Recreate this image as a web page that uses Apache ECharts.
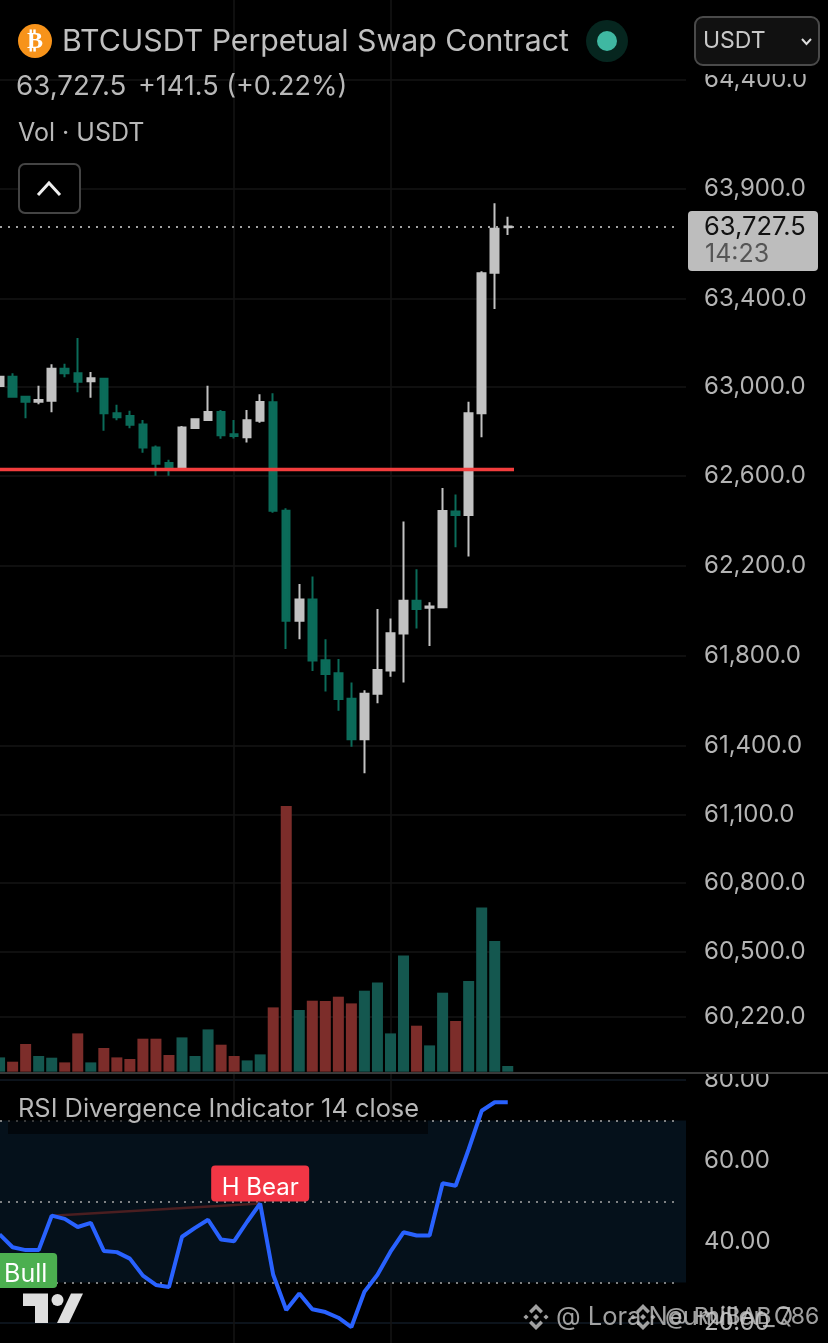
<!DOCTYPE html>
<html><head><meta charset="utf-8">
<style>html,body{margin:0;padding:0;background:#000}#c{width:828px;height:1343px}</style>
<script src="https://cdn.jsdelivr.net/npm/echarts@6/dist/echarts.min.js"></script></head>
<body><div id="c"></div>
<script>
// candle data: [open, close, low, high]
const candles = [
[63004,63046,63004,63046],[63046,62956,62953,63062],[62956,62933,62859,62959],[62933,62941,62922,63005],
[62937,63082,62886,63102],[63082,63061,63043,63104],[63061,63023,62976,63221],[63025,63039,62951,63067],
[63037,62881,62802,63037],[62881,62863,62850,62919],[62869,62829,62814,62892],[62830,62727,62704,62851],
[62727,62654,62600,62736],[62657,62636,62600,62672],[62634,62817,62634,62824],[62815,62854,62815,62854],
[62851,62887,62848,63005],[62887,62782,62766,62896],[62787,62779,62767,62851],[62773,62850,62749,62896],
[62847,62932,62838,62967],[62931,62444,62435,62971],[62444,61954,61828,62455],[61954,62048,61872,62117],
[62048,61777,61731,62150],[61779,61718,61640,61872],[61721,61607,61556,61784],[61608,61430,61397,61680],
[61430,61631,61281,61646],[61630,61735,61589,62006],[61733,61898,61706,61963],[61897,62042,61680,62395],
[62042,62006,61919,62183],[62011,62017,61842,62036],[62014,62442,62014,62545],[62440,62424,62281,62516],
[62424,62881,62239,62933],[62881,63515,62773,63524],[63517,63718,63352,63834],[63724,63727.5,63689,63772]
];
const firstSlot = 6;
const volumes = [14.3,10,27.7,15.7,14,9.3,38.3,9.3,23.7,14.3,12.7,33,33,16.7,34.3,15.7,42.3,27,15.7,11.3,17.3,64.3,265.7,61.7,71,70.7,75,68.3,81,89.3,38.3,116.3,46,26.3,79,50.7,90.7,164.3,130.7,5.7];
const rsi = [41.9,38.7,38,38,46.5,45.7,43.7,44.7,37.8,37.5,35.9,31.7,29.4,28.9,41.3,43.5,45.5,40.6,40.2,45,49.5,31.9,23.2,27.3,23.4,22.7,21.3,19,27.7,31.9,37.6,42.4,41.6,41.6,54.5,53.9,62.9,72.4,74.5,74.5];
const priceTicks = [64400,63900,63400,63000,62600,62200,61800,61400,61100,60800,60500,60220];
const rsiTicks = [20,40,60,80];
const rsiLevels = [70,50,30];
const timeTicks = [12,24,36,48];
const lastPrice = 63727.5;
const supportLevel = 62628;
const supportEndSlot = 45.48;
const bearDivergence = [[10,46.5],[26,49.5]];

const UP='#c2c2c2', DOWN='#0b6b59', VUP='#14574f', VDOWN='#7c2d2a';
const FONT='Inter, "Open Sans", sans-serif', LABEL='#b4b4b4';
const X0=6.032, X1=58.68, XDOT=58.22;
const fmt = v => v.toLocaleString('en-US',{minimumFractionDigits:1,maximumFractionDigits:1});
const xRange = {type:'value',min:X0,max:X1,axisLine:{show:false},axisTick:{show:false},axisLabel:{show:false},splitLine:{show:false}};
const gridX = {left:0,right:142};
const slot = i => i+firstSlot;

const T=(x,y,text,size,fill,extra)=>({type:'text',z:120,style:Object.assign({x,y,text,font:`${size}px ${FONT}`,fill,textVerticalAlign:'middle'},extra||{})});
const R=(x,y,w,h,r,fill,stroke,z)=>({type:'rect',z:z||110,shape:{x,y,width:w,height:h,r},style:{fill,stroke:stroke||null,lineWidth:2}});
const C=(cx,cy,r,fill,z)=>({type:'circle',z:z||112,shape:{cx,cy,r},style:{fill}});
const P=(points,fill)=>({type:'polygon',z:125,shape:{points},style:{fill}});
const L=(points,stroke,w)=>({type:'polyline',z:125,shape:{points},style:{stroke,lineWidth:w,fill:null}});
const WM='rgba(195,195,195,.82)';
const wm=(cx,cy)=>{
 const d=(a,b,r)=>P([[cx+a,cy+b-r],[cx+a+r,cy+b],[cx+a,cy+b+r],[cx+a-r,cy+b]],WM);
 const c=s=>P([[cx,cy+s*13],[cx+7,cy+s*6],[cx+4.5,cy+s*3.5],[cx,cy+s*8],[cx-4.5,cy+s*3.5],[cx-7,cy+s*6]],WM);
 return [c(-1),c(1),d(0,0,3),d(-10,0,2.6),d(10,0,2.6)];
};

const graphics=[
 R(690,0,138,74,0,'#000'),
 R(690,1058,138,16,0,'#000'),
 R(0,1072,828,2,0,'#3a3a3a'),
 C(35,41,17,'#f7931a'),
 T(35,42,'₿',24,'#fff',{textAlign:'center',font:`bold 24px "DejaVu Sans"`}),
 T(62,42,'BTCUSDT Perpetual Swap Contract',30.25,'#c0c0c0'),
 C(607,41,21,'#06261f'),C(607,41,10,'#3fb8a2',113),
 R(695,17,124,48,8,'#111','#4a4a4a'),
 T(703,41,'USDT',23,'#c8c8c8'),
 L([[802,39],[806.5,44],[811,39]],'#ddd',2),
 T(16,87,'63,727.5',27.7,'#b8b8b8'),
 T(138,87,'+141.5 (+0.22%)',27,'#b8b8b8'),
 T(18,133,'Vol · USDT',25,'#b8b8b8'),
 R(19,164,61,49,6,'#000','#444'),
 L([[38,195],[49,183],[60,195]],'#eee',3),
 R(688,211,130,60,4,'#bdbdbd'),
 T(704,227,'63,727.5',25.5,'#111'),
 T(705,254,'14:23',25,'#555'),
 R(8,1120,420,14,0,'rgba(0,0,0,.55)',null,60),
 T(18,1109,'RSI Divergence Indicator 14 close',25.4,'#b8b8b8'),
 P([[23,1293.5],[48,1293.5],[48,1323],[35,1323],[35,1306],[23,1306]],'#dedede'),
 C(57.5,1300,6,'#dedede',126),
 P([[71,1293.5],[83,1293.5],[69,1323],[57,1323]],'#dedede'),
 ...wm(536,1317),...wm(643,1317),
 T(556,1317,'@ Lora Neumiller_Q',25.5,WM),
 T(665,1317,'@ RUBAB 786',23,WM)
];

const option={
 animation:false,backgroundColor:'#000',
 graphic:graphics,
 grid:[
  Object.assign({top:0,height:1343},gridX),
  Object.assign({top:80,height:937},gridX),
  Object.assign({top:805.7,height:266},gridX),
  Object.assign({top:1080,height:243},gridX)
 ],
 xAxis:[
  Object.assign({},xRange,{gridIndex:0,axisTick:{show:false,customValues:timeTicks},splitLine:{show:true,showMinLine:false,showMaxLine:false,lineStyle:{color:'#151515',width:1.5}}}),
  Object.assign({},xRange,{gridIndex:1}),
  Object.assign({},xRange,{gridIndex:2}),
  Object.assign({},xRange,{gridIndex:3})
 ],
 yAxis:[
  {gridIndex:0,type:'value',min:0,max:1,show:false,splitLine:{show:false}},
  {gridIndex:1,type:'log',logBase:10,min:60220,max:64400,position:'right',
   axisLine:{show:false},
   axisTick:{show:false,customValues:priceTicks},
   axisLabel:{customValues:priceTicks,margin:18,padding:[4,0,0,0],color:LABEL,fontFamily:FONT,fontSize:24,formatter:v=>fmt(+v),showMinLabel:true,showMaxLabel:true},
   splitLine:{show:true,lineStyle:{color:'#141414',width:1.5}}},
  {gridIndex:2,type:'value',min:0,max:266,show:false,splitLine:{show:false}},
  {gridIndex:3,type:'value',min:20,max:80,position:'right',
   axisLine:{show:false},axisTick:{show:false,customValues:rsiTicks},
   axisLabel:{customValues:rsiTicks,margin:18,padding:[4,0,0,0],color:LABEL,fontFamily:FONT,fontSize:24,formatter:v=>(+v).toFixed(2),showMinLabel:true,showMaxLabel:true},
   splitLine:{show:true,lineStyle:{color:'#111a24',width:1.5}}}
 ],
 series:[
  {type:'candlestick',name:'Price',xAxisIndex:1,yAxisIndex:1,z:3,barWidth:8,
   data:candles.map((c,i)=>[slot(i),...c]),encode:{x:0,y:[1,2,3,4]},
   itemStyle:{color:UP,color0:DOWN,borderColor:UP,borderColor0:DOWN,borderWidth:2},
   markLine:{silent:true,symbol:'none',label:{show:false},z:2,lineStyle:{color:'#d8d8d8',type:[2,6],width:1.5},
    data:[[{coord:[X0,lastPrice]},{coord:[XDOT,lastPrice]}]]}},
  {type:'line',name:'Support',xAxisIndex:1,yAxisIndex:1,z:5,symbol:'none',silent:true,
   data:[[X0,supportLevel],[supportEndSlot,supportLevel]],lineStyle:{color:'#f23d3d',width:3.5}},
  {type:'bar',name:'Volume',xAxisIndex:2,yAxisIndex:2,barWidth:11,z:2,
   data:volumes.map((v,i)=>({value:[slot(i),v],itemStyle:{color:candles[i][1]>=candles[i][0]?VUP:VDOWN}}))},
  {type:'line',name:'Divergence',xAxisIndex:3,yAxisIndex:3,z:4,symbol:'none',silent:true,
   data:bearDivergence,lineStyle:{color:'#4a1e20',width:2.5}},
  {type:'line',name:'RSI',xAxisIndex:3,yAxisIndex:3,z:6,symbol:'none',clip:false,silent:true,
   data:rsi.map((v,i)=>[slot(i),v]),lineStyle:{color:'#2962ff',width:4},itemStyle:{color:'#2962ff'},
   markArea:{silent:true,z:1,itemStyle:{color:'#05111b'},data:[[{coord:[X0,70]},{coord:[X1,30]}]]},
   markLine:{silent:true,symbol:'none',label:{show:false},z:2,lineStyle:{color:'#a8a8a8',type:[2,6],width:1.5},
    data:rsiLevels.map(v=>[{coord:[X0,v]},{coord:[XDOT,v]}])},
   markPoint:{silent:true,symbol:'circle',symbolSize:0,z:8,
    data:[
     {coord:[26,49.5],label:{show:true,position:'top',distance:2,formatter:'H Bear',color:'#fff',fontFamily:FONT,fontSize:24,backgroundColor:'#f23645',borderRadius:4,width:98,height:28,lineHeight:28,padding:[8,0,0,0],align:'center'}},
     {coord:[8,38],label:{show:true,position:'bottom',distance:3,formatter:'Bull',color:'#fff',fontFamily:FONT,fontSize:25,backgroundColor:'#4caf50',borderRadius:4,width:63,height:27,lineHeight:27,padding:[8,0,0,0],align:'center'}}
    ]}}
 ]
};
echarts.init(document.getElementById('c'),null,{renderer:'canvas',width:828,height:1343}).setOption(option);
</script></body></html>
